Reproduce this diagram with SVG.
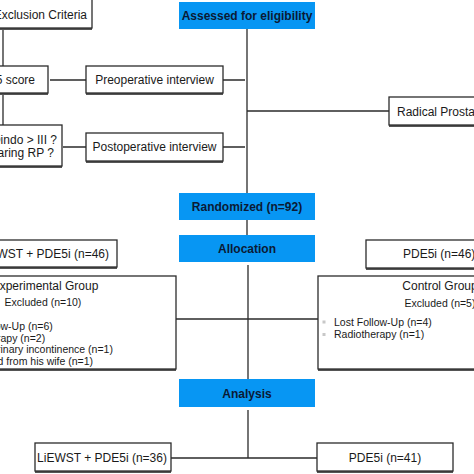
<svg xmlns="http://www.w3.org/2000/svg" width="474" height="474" viewBox="0 0 474 474">
<style>
.bx{fill:#fff;stroke:#2b2b2b;stroke-width:1.3}
.sh{fill:#555}
.bl{fill:#0796f3}
.t{font-family:"Liberation Sans",Arial,sans-serif;font-size:12px;fill:#1a1a1a}
.s{font-family:"Liberation Sans",Arial,sans-serif;font-size:10.5px;fill:#1a1a1a}
.b{font-family:"Liberation Sans",Arial,sans-serif;font-size:12px;font-weight:bold;fill:#0b1a35;text-anchor:middle}
.c{text-anchor:middle}
.e{text-anchor:end}
.ln{stroke:#2b2b2b;stroke-width:1.3;fill:none}
.dot{fill:#c8c8c8}
</style>
<rect width="474" height="474" fill="#fff"/>
<g id="connectors">
<path class="ln" d="M3 28V66M3 93V125M50 80H86M223 80H245M63 147H86M223 147H245M247 29V193M247 111H389M247 220V235M248 265V379M176 319H318M248 410V458M171 458H317"/>
</g>
<g id="exclusion"><rect class="sh" x="-60" y="1" width="152" height="29"/><rect class="bx" x="-60" y="-1" width="152" height="29"/><text class="t e" x="87" y="19">Exclusion Criteria</text></g>
<g id="assessed"><rect class="bl" x="179" y="2" width="136" height="27"/><text class="b" x="247" y="19.5">Assessed for eligibility</text></g>
<g id="score"><rect class="sh" x="-60" y="68" width="108" height="27"/><rect class="bx" x="-60" y="66" width="108" height="27"/><text class="t e" x="35" y="84">IIEF-5 score</text></g>
<g id="preop"><rect class="sh" x="86" y="68" width="137" height="27"/><rect class="bx" x="86" y="66" width="137" height="27"/><text class="t c" x="154.5" y="84">Preoperative interview</text></g>
<g id="radical"><rect class="sh" x="389" y="99" width="120" height="28"/><rect class="bx" x="389" y="97" width="120" height="28"/><text class="t" x="397" y="116">Radical Prostatectomy</text></g>
<g id="clavien"><rect class="sh" x="-70" y="127" width="132" height="41"/><rect class="bx" x="-70" y="125" width="132" height="41"/><text class="t e" x="57" y="144">Clavien-Dindo &gt; III ?</text><text class="t e" x="54" y="157">Nerve sparing RP ?</text></g>
<g id="postop"><rect class="sh" x="86" y="135" width="137" height="28"/><rect class="bx" x="86" y="133" width="137" height="28"/><text class="t c" x="154.5" y="151">Postoperative interview</text></g>
<g id="randomized"><rect class="bl" x="179" y="193" width="136" height="27"/><text class="b" x="247" y="210.5">Randomized (n=92)</text></g>
<g id="allocation"><rect class="bl" x="179" y="235" width="136" height="27"/><text class="b" x="247" y="253">Allocation</text></g>
<g id="liewst46"><rect class="sh" x="-30" y="242" width="147" height="27"/><rect class="bx" x="-30" y="240" width="147" height="27"/><text class="t e" x="109" y="257.5">LiEWST + PDE5i (n=46)</text></g>
<g id="pde46"><rect class="sh" x="366" y="242" width="140" height="28"/><rect class="bx" x="366" y="240" width="140" height="28"/><text class="t" x="403" y="258">PDE5i (n=46)</text></g>
<g id="experimental"><rect class="sh" x="-88" y="278" width="264" height="93"/><rect class="bx" x="-88" y="276" width="264" height="93"/>
<text class="t c" x="45" y="289.5">Experimental Group</text>
<text class="s c" x="43" y="305.5">Excluded (n=10)</text>
<rect class="dot" x="-56" y="325" width="3" height="3"/>
<text class="s" x="-45" y="329.5">Lost Follow-Up (n=6)</text>
<text class="s" x="-45" y="341.5">Radiotherapy (n=2)</text>
<text class="s" x="-45" y="353">Severe urinary incontinence (n=1)</text>
<text class="s" x="-45" y="364.5">Separated from his wife (n=1)</text>
</g>
<g id="control"><rect class="sh" x="318" y="278" width="264" height="93"/><rect class="bx" x="318" y="276" width="264" height="93"/>
<text class="t c" x="440" y="290">Control Group</text>
<text class="s c" x="440" y="306.5">Excluded (n=5)</text>
<rect class="dot" x="322.5" y="320.5" width="3" height="3"/>
<rect class="dot" x="322.5" y="333" width="3" height="3"/>
<text class="s" x="334" y="325.5">Lost Follow-Up (n=4)</text>
<text class="s" x="334" y="338">Radiotherapy (n=1)</text>
</g>
<g id="analysis"><rect class="bl" x="179" y="379" width="136" height="28"/><text class="b" x="247" y="397.5">Analysis</text></g>
<g id="liewst36"><rect class="sh" x="35" y="445" width="136" height="28"/><rect class="bx" x="35" y="443" width="136" height="28"/><text class="t c" x="102" y="461.5">LiEWST + PDE5i (n=36)</text></g>
<g id="pde41"><rect class="sh" x="317" y="445" width="136" height="28"/><rect class="bx" x="317" y="443" width="136" height="28"/><text class="t c" x="385" y="461.5">PDE5i (n=41)</text></g>
</svg>
